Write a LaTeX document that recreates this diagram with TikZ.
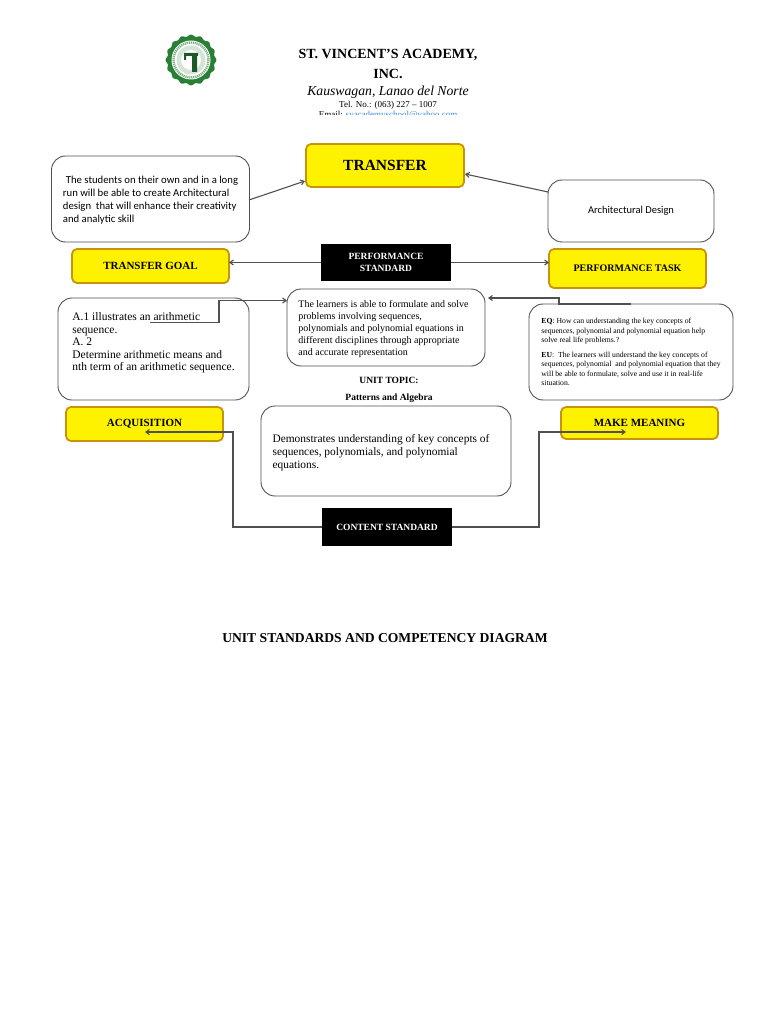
\documentclass[tikz,border=0pt]{standalone}
\usepackage{fontspec}
\setmainfont{Liberation Serif}
\newfontfamily\bodyfont{Carlito}
\usepackage{tikz}
\usetikzlibrary{positioning,arrows.meta}
\definecolor{sealgreen}{HTML}{2A7F36}
\definecolor{boxgold}{HTML}{C8930A}
\definecolor{wireline}{HTML}{505050}
\definecolor{maillink}{HTML}{3A86E0}

\begin{document}
\begin{tikzpicture}[
  x=1pt,y=-1pt,
  outer sep=0pt,
  hilite/.style={draw=boxgold,line width=1.8pt,fill=yellow,rounded corners=5pt,align=center,font=\fontsize{11}{13}\selectfont\bfseries},
  blackbox/.style={fill=black,text=white,align=center,minimum width=130pt,font=\fontsize{9.5}{12}\selectfont\bfseries},
  textbox/.style={draw=wireline,line width=0.9pt,rounded corners=14pt,align=left,inner sep=0pt},
  header/.style={inner sep=0pt},
  arrow/.style={-{Straight Barb[length=3.5pt,width=5pt]},draw=wireline,line width=1.1pt}
]
\useasboundingbox (0,0) rectangle (768,1024);
% seal
\fill[sealgreen] plot[domain=0:360,samples=145,smooth] ({191+(24.5+0.9*cos(16*\x))*cos(\x)},{60+(24.5+0.9*cos(16*\x))*sin(\x)}) -- cycle;
\fill[white] (191,60) circle (19.5);
\draw[sealgreen!60,line width=2.4pt,dash pattern=on 1.2pt off 0.8pt] (191,60) circle (17.5);
\fill[sealgreen!20] (191,60) circle (14.5);
\fill[white] (191,60) circle (10);
\fill[sealgreen!70!black] (184,53) rectangle (198,56) (192,56) rectangle (197,72) (184,56) rectangle (186,60);
% header
\node[header,font=\fontsize{14}{17}\selectfont\bfseries] (school) at (388,55) {ST. VINCENT'S ACADEMY,};
\node[header,font=\fontsize{14}{17}\selectfont\bfseries,below=8pt of school] (inc) {INC.};
\node[header,font=\fontsize{13.7}{16}\selectfont\itshape,below=7.5pt of inc] (town) {Kauswagan, Lanao del Norte};
\node[header,font=\fontsize{9}{11}\selectfont,below=3.5pt of town] (tel) {Tel. No.: (063) 227 -- 1007};
\begin{scope}
\clip (300,100) rectangle (480,115);
\node[header,font=\fontsize{9}{11}\selectfont,below=1.5pt of tel] (mail) {Email: \textcolor{maillink}{svacademyschool@yahoo.com}};
\end{scope}
% main column
\node[hilite,minimum width=158pt,minimum height=43pt,font=\fontsize{15.5}{18}\selectfont\bfseries] (transfer) at (385,165.5) {TRANSFER};
\node[blackbox,minimum height=37pt,below=57pt of transfer,xshift=1pt] (perfstd) {PERFORMANCE\\STANDARD};
\node[textbox,minimum width=198pt,minimum height=77pt,below=8pt of perfstd,font=\fontsize{10}{11.9}\selectfont] (perftext) {\rule{0pt}{10.5pt}The learners is able to formulate and solve\hspace*{5pt}\\problems involving sequences,\\polynomials and polynomial equations in\\different disciplines through appropriate\\and accurate representation};
\node[below=7.5pt of perftext,xshift=3pt,font=\fontsize{9.5}{12}\selectfont\bfseries] (topic) {UNIT TOPIC:};
\node[below=4pt of topic,font=\fontsize{9.5}{12}\selectfont\bfseries] (algebra) {Patterns and Algebra};
\node[textbox,minimum width=250pt,minimum height=90pt,below=40pt of perftext,font=\fontsize{11.4}{12.6}\selectfont] (contentbox) {\rule{0pt}{11.5pt}Demonstrates understanding of key concepts of\hspace*{10pt}\\sequences, polynomials, and polynomial\\equations.};
\node[blackbox,minimum height=38pt,below=12pt of contentbox,xshift=1pt] (contentstd) {CONTENT STANDARD};
\node[below=84pt of contentstd,xshift=-2pt,font=\fontsize{13.6}{16}\selectfont\bfseries] (title) {UNIT STANDARDS AND COMPETENCY DIAGRAM};
% left column
\node[hilite,minimum width=157pt,minimum height=34pt,left=92pt of perfstd,yshift=-3.5pt] (goal) {TRANSFER GOAL};
\node[textbox,minimum width=198pt,minimum height=86pt,above=7pt of goal,font=\bodyfont\fontsize{10.7}{13.1}\selectfont] (goaltext) {\rule{0pt}{10pt}\hspace*{3pt}The students on their own and in a long\\run will be able to create Architectural\\design\ \ that will enhance their creativity\\and analytic skill};
\node[textbox,minimum width=191pt,minimum height=102pt,left=38pt of perftext,yshift=-21.5pt,font=\fontsize{11.5}{12.5}\selectfont] (acqtext) {A.1 illustrates an arithmetic\\sequence.\\A. 2\\Determine arithmetic means and\\nth term of an arithmetic sequence.\hspace*{3pt}\\[2pt]\mbox{}};
\node[hilite,minimum width=157pt,minimum height=34pt,below=7pt of acqtext,xshift=-9pt] (acquisition) {ACQUISITION};
% right column
\node[hilite,minimum width=157pt,minimum height=39pt,right=98pt of perfstd,yshift=-6pt,font=\fontsize{10}{12}\selectfont\bfseries] (task) {PERFORMANCE TASK};
\node[textbox,minimum width=166pt,minimum height=62pt,align=center,above=7pt of task,xshift=3.5pt,font=\bodyfont\fontsize{10.5}{12}\selectfont] (archbox) {Architectural Design};
\node[textbox,minimum width=204pt,minimum height=96pt,right=44pt of perftext,yshift=-24.5pt,font=\fontsize{7.7}{9.3}\selectfont] (eqbox) {\textbf{EQ}: How can understanding the key concepts of\\sequences, polynomial and polynomial equation help\\solve real life problems.?\\[6pt]\textbf{EU}:\ \ The learners will understand the key concepts of\\sequences, polynomial\ \ and polynomial equation that they\\will be able to formulate, solve and use it in real-life\\situation.};
\node[hilite,minimum width=157pt,minimum height=32pt,below=7pt of eqbox,xshift=8.5pt] (meaning) {MAKE MEANING};
% connector ends
\coordinate (acqstart) at (150,322.5);
\coordinate (acqbend) at (219,322.5);
\coordinate (acqtip) at (287,300.5);
\coordinate (eqbend) at (559,304);
\coordinate (eqtip) at (488,298);
\coordinate (acqcorner) at (233,432);
\coordinate (acqend) at (145,432);
\coordinate (meancorner) at (539,432);
\coordinate (meanend) at (626,432);
\coordinate (goalstart) at (249,200);
\coordinate (goaltip) at (305,181);
\coordinate (archstart) at (548,192);
\coordinate (archtip) at (465,174);
% connectors
\draw[arrow] (goalstart) -- (goaltip);
\draw[arrow] (archstart) -- (archtip);
\draw[arrow] (perfstd.west) -- (perfstd.west -| goal.east);
\draw[arrow] (perfstd.east) -- (perfstd.east -| task.west);
\draw[arrow] (acqstart) -- (acqbend) |- (acqtip);
\draw[arrow] (eqbox.north) -- (eqbend) |- (eqtip);
\draw[arrow] (contentstd.west) -| (acqcorner) -- (acqend);
\draw[arrow] (contentstd.east) -| (meancorner) -- (meanend);
\end{tikzpicture}
\end{document}
